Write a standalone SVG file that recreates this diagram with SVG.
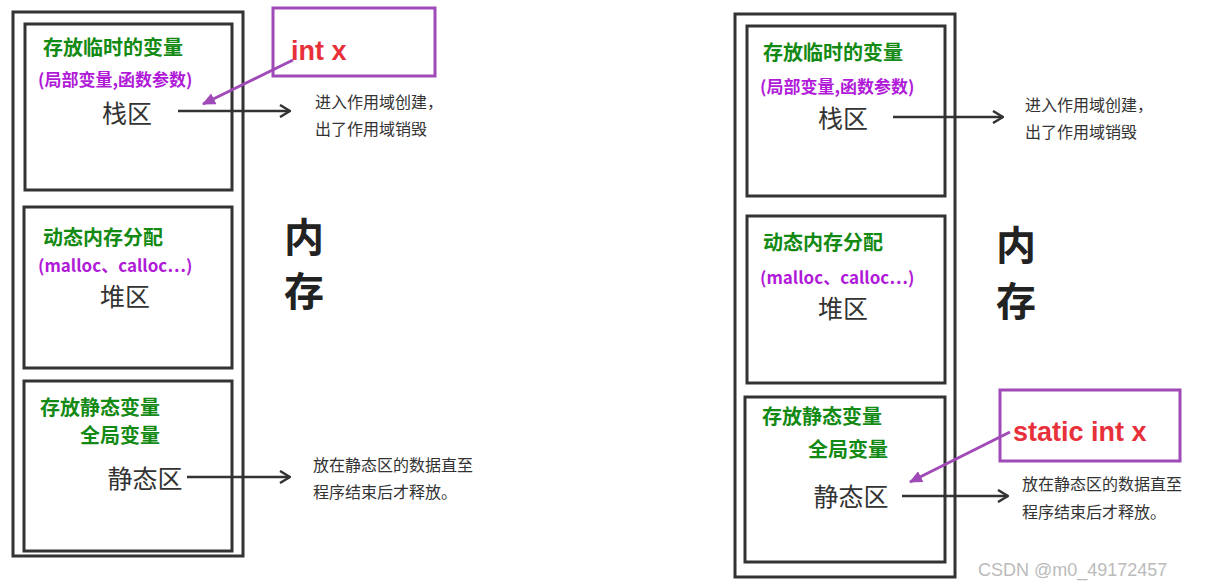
<svg xmlns="http://www.w3.org/2000/svg" width="1227" height="588" viewBox="0 0 1227 588">
<defs>
<marker id="ab" markerWidth="12" markerHeight="14" refX="11" refY="7" orient="auto" markerUnits="userSpaceOnUse"><path d="M1,1 L11,7 L1,13" fill="none" stroke="#333" stroke-width="2.5"/></marker>
<marker id="ap" markerWidth="14" markerHeight="12" refX="12" refY="6" orient="auto" markerUnits="userSpaceOnUse"><path d="M0,0 L13,6 L0,12 Z" fill="#a04ab8"/></marker>
<style>
.box{fill:none;stroke:#333;stroke-width:3}
.pbox{fill:none;stroke:#a04ab8;stroke-width:3}
.g{font-family:"Noto Sans CJK SC",sans-serif;font-size:20px;fill:#138a13;font-weight:bold}
.p{font-family:"Noto Sans CJK SC",sans-serif;font-size:17px;fill:#b01ad8;font-weight:bold}
.z{font-family:"Noto Sans CJK SC",sans-serif;font-size:25px;fill:#333;text-anchor:middle}
.t{font-family:"Noto Sans CJK SC",sans-serif;font-size:16px;fill:#333}
.big{font-family:"Noto Sans CJK SC",sans-serif;font-size:40px;fill:#222;font-weight:bold}
.r{font-family:"Liberation Sans",sans-serif;font-size:27px;fill:#e8303a;font-weight:bold}
.bl{stroke:#333;stroke-width:2.5;fill:none}
.pl{stroke:#a04ab8;stroke-width:3;fill:none}
</style>
</defs>
<rect width="1227" height="588" fill="#fff"/>
<g id="left-memory"><rect class="box" x="13" y="12" width="230" height="544"/>
<text class="big" x="284" y="252">内</text><text class="big" x="284" y="306">存</text></g>
<g id="left-stack"><rect class="box" x="25" y="24" width="207" height="166"/>
<text class="g" x="43" y="55">存放临时的变量</text><text class="p" x="38" y="86">(局部变量,函数参数)</text>
<text class="z" x="127" y="123">栈区</text>
<text class="t" x="315" y="108">进入作用域创建，</text><text class="t" x="315" y="135">出了作用域销毁</text></g>
<g id="left-intx"><rect class="pbox" x="273" y="8" width="162" height="68"/><text class="r" x="291" y="60">int x</text></g>
<g id="left-heap"><rect class="box" x="24" y="207" width="208" height="161"/>
<text class="g" x="43" y="245">动态内存分配</text><text class="p" x="38" y="272">(malloc、calloc…)</text>
<text class="z" x="125" y="306">堆区</text></g>
<g id="left-static"><rect class="box" x="24" y="381" width="208" height="170"/>
<text class="g" x="40" y="415">存放静态变量</text><text class="g" x="80" y="443">全局变量</text>
<text class="z" x="145" y="488">静态区</text>
<text class="t" x="313" y="471">放在静态区的数据直至</text><text class="t" x="313" y="498">程序结束后才释放。</text></g>

<g id="right-memory"><rect class="box" x="735" y="14" width="220" height="563"/>
<text class="big" x="996" y="260">内</text><text class="big" x="996" y="316">存</text></g>
<g id="right-stack"><rect class="box" x="747" y="26" width="198" height="170"/>
<text class="g" x="763" y="60">存放临时的变量</text><text class="p" x="760" y="93">(局部变量,函数参数)</text>
<text class="z" x="843" y="128">栈区</text>
<text class="t" x="1025" y="111">进入作用域创建，</text><text class="t" x="1025" y="138">出了作用域销毁</text></g>
<g id="right-heap"><rect class="box" x="747" y="216" width="198" height="167"/>
<text class="g" x="763" y="250">动态内存分配</text><text class="p" x="760" y="284">(malloc、calloc…)</text>
<text class="z" x="843" y="318">堆区</text></g>
<g id="right-static"><rect class="box" x="745" y="397" width="200" height="165"/>
<text class="g" x="762" y="424">存放静态变量</text><text class="g" x="808" y="457">全局变量</text>
<text class="z" x="851" y="506">静态区</text>
<text class="t" x="1022" y="490">放在静态区的数据直至</text><text class="t" x="1022" y="518">程序结束后才释放。</text></g>
<g id="right-staticintx"><rect class="pbox" x="1000" y="390" width="180" height="71"/><text class="r" x="1013" y="441">static int x</text></g>

<g id="connectors">
<line class="bl" x1="178" y1="111" x2="290" y2="111" marker-end="url(#ab)"/>
<line class="bl" x1="187" y1="477" x2="290" y2="477" marker-end="url(#ab)"/>
<line class="bl" x1="893" y1="117" x2="1003" y2="117" marker-end="url(#ab)"/>
<line class="bl" x1="902" y1="496" x2="1008" y2="496" marker-end="url(#ab)"/>
<line class="pl" x1="293" y1="60" x2="203" y2="104" marker-end="url(#ap)"/>
<line class="pl" x1="1010" y1="432" x2="910" y2="482" marker-end="url(#ap)"/>
</g>
<text x="978" y="576" font-family="Liberation Sans,sans-serif" font-size="18" fill="#bbb">CSDN @m0_49172457</text>
</svg>
